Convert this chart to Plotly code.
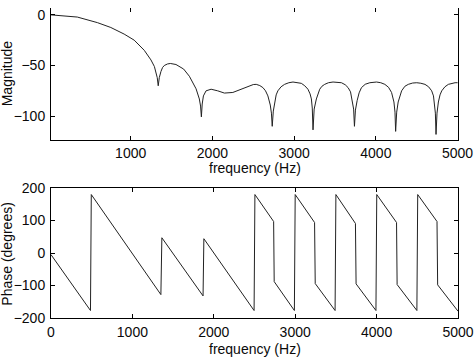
import plotly.graph_objects as go

# Magnitude response (dB)
mag_freq = [15, 347, 593, 757, 920, 1043, 1166, 1248, 1290, 1309, 1325, 1337, 1350, 1370, 1390, 1411, 1450, 1485,
            1554, 1648, 1718, 1800, 1840, 1855, 1865, 1875, 1890, 1922, 1984, 2065, 2147, 2250,
            2352, 2454, 2500, 2536, 2580, 2618, 2650, 2679, 2708, 2722, 2732,
            2745, 2761, 2780, 2801, 2840, 2883, 2935, 2986, 3040, 3088, 3130, 3169, 3195, 3211, 3222, 3231,
            3245, 3272, 3313, 3340, 3374, 3420, 3476, 3530, 3579, 3625, 3660, 3690, 3709, 3728, 3738,
            3750, 3771, 3795, 3824, 3870, 3926, 3970, 4008, 4060, 4110, 4155, 4192, 4221, 4234, 4242,
            4255, 4273, 4295, 4315, 4355, 4397, 4450, 4500, 4550, 4601, 4645, 4683, 4705, 4716, 4728, 4736,
            4748, 4765, 4785, 4806, 4845, 4887, 4930, 4969, 5000]
mag_db = [0, -2.2, -7.7, -12.5, -19, -25, -35, -44.5, -51, -56, -62, -70, -62, -56, -52, -50, -48.5, -48,
          -49, -53.5, -60.6, -73, -83, -90, -100.7, -88, -80, -75, -73.4, -75, -77.2, -76.6,
          -73.4, -69.6, -68.8, -68.6, -69.8, -71.8, -75, -80, -89, -97, -110,
          -95, -86, -79, -75, -71, -68.6, -67, -66.3, -66.6, -67.6, -70, -73.4, -78, -83, -92, -113.5,
          -93, -83, -73.4, -70.5, -68.6, -67, -66.3, -66.4, -67, -69, -71.8, -76, -83, -93, -110,
          -94, -84.6, -77, -71.8, -68.5, -67, -66.4, -66.3, -67, -68.6, -71.5, -76.6, -86, -96, -115,
          -96, -86, -79, -75, -70.5, -68.6, -67.3, -67, -67.5, -68.6, -71, -75, -80, -86, -97, -118,
          -97, -86, -79, -75, -71, -68.6, -67.5, -67, -67]

# Phase response (degrees)
ph_freq = [0, 485, 495, 1350, 1362, 1868, 1878, 2495, 2505, 2735, 2742, 2990, 3000, 3238, 3246,
           3490, 3500, 3740, 3748, 3992, 4002, 4245, 4252, 4495, 4505, 4742, 4750, 5000]
ph_deg = [-5, -177, 180, -128, 47, -132, 44, -177, 180, 97, -88, -177, 180, 94, -94,
          -177, 180, 91, -95, -177, 180, 94, -97, -177, 180, 97, -98, -179]

mag_ticks = [0, -50, -100]
ph_ticks = [-200, -100, 0, 100, 200]
freq_ticks_top = [1000, 2000, 3000, 4000, 5000]
freq_ticks_bot = [0, 1000, 2000, 3000, 4000, 5000]

FONT = "Liberation Sans, Arial, sans-serif"
LINE = "#222222"
TXT = "#0a0a0a"

fig = go.Figure()
fig.add_trace(go.Scatter(x=mag_freq, y=mag_db, mode="lines", line=dict(color=LINE, width=1),
                         xaxis="x", yaxis="y", showlegend=False, hoverinfo="skip"))
fig.add_trace(go.Scatter(x=ph_freq, y=ph_deg, mode="lines", line=dict(color=LINE, width=1),
                         xaxis="x2", yaxis="y2", showlegend=False, hoverinfo="skip"))
# invisible trace to carry top-edge ticks of upper panel
fig.add_trace(go.Scatter(x=[1000], y=[0], mode="markers", marker=dict(opacity=0),
                         xaxis="x3", yaxis="y", showlegend=False, hoverinfo="skip"))

axis_common = dict(showgrid=False, zeroline=False, ticks="inside", ticklen=4, tickcolor="black",
                   linecolor="black", linewidth=1, tickfont=dict(family=FONT, size=14, color=TXT))

fig.update_layout(
    width=474, height=357,
    margin=dict(l=51, r=16, t=0, b=39),
    paper_bgcolor="white", plot_bgcolor="white",
    xaxis=dict(axis_common, domain=[0, 1], anchor="y", range=[25, 5005], tickvals=freq_ticks_top,
               showline=True, mirror=False, ticklabelstandoff=1),
    yaxis=dict(axis_common, domain=[0.5755, 1], anchor="x", range=[-123.1, 6.73], tickvals=mag_ticks,
               showline=True, mirror="ticks", ticklabelstandoff=2),
    xaxis3=dict(axis_common, overlaying="x", side="top", anchor="y", range=[25, 5005],
                tickvals=freq_ticks_top, showline=False, showticklabels=False),
    xaxis2=dict(axis_common, domain=[0, 1], anchor="y2", range=[0, 5000], tickvals=freq_ticks_bot,
                showline=True, mirror="ticks", ticklabelstandoff=1),
    yaxis2=dict(axis_common, domain=[0, 0.4192], anchor="x2", range=[-200, 200], tickvals=ph_ticks,
                showline=True, mirror="ticks", ticklabelstandoff=2),
    annotations=[
        dict(text="frequency (Hz)", xref="paper", yref="paper", x=0.5, y=(318 - 164) / 318,
             showarrow=False, xanchor="center", yanchor="middle", font=dict(family=FONT, size=14, color=TXT)),
        dict(text="frequency (Hz)", xref="paper", yref="paper", x=0.5, y=(318 - 350) / 318,
             showarrow=False, xanchor="center", yanchor="middle", font=dict(family=FONT, size=14, color=TXT)),
        dict(text="Magnitude", xref="paper", yref="paper", x=(7 - 51) / 407, y=(318 - 67) / 318,
             textangle=-90, showarrow=False, xanchor="center", yanchor="middle",
             font=dict(family=FONT, size=14, color=TXT)),
        dict(text="Phase (degrees)", xref="paper", yref="paper", x=(7 - 51) / 407, y=(318 - 252) / 318,
             textangle=-90, showarrow=False, xanchor="center", yanchor="middle",
             font=dict(family=FONT, size=14, color=TXT)),
    ],
)

fig.write_html("out.html", post_script="document.body.style.margin='0px';document.body.style.padding='0px';",
               config={"displayModeBar": False})
